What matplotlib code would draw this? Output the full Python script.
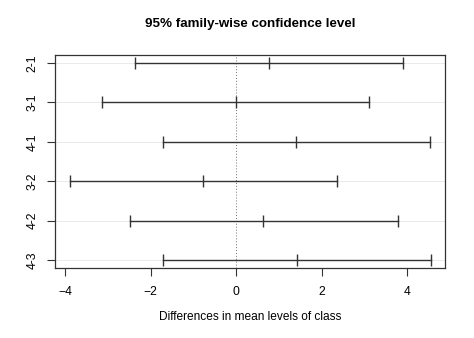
import matplotlib.pyplot as plt

plt.rcParams['font.family'] = ['Liberation Sans', 'DejaVu Sans']

# Tukey HSD comparisons, top to bottom
comparisons = ["2-1", "3-1", "4-1", "3-2", "4-2", "4-3"]
diff = [0.77, 0.00, 1.40, -0.77, 0.64, 1.42]
lower = [-2.36, -3.13, -1.72, -3.90, -2.49, -1.72]
upper = [3.90, 3.12, 4.53, 2.37, 3.78, 4.55]

fig = plt.figure(figsize=(4.74, 3.38), dpi=100)
ax = fig.add_axes([0.116, 0.207, 0.823, 0.630])

n = len(comparisons)
ypos = [n - i for i in range(n)]

# light grey guide lines and the zero reference
for y in ypos:
    ax.axhline(y, color="#e6e6e6", lw=0.6, zorder=1)
ax.axvline(0, color="#707070", lw=0.7, ls=(0, (1, 2)), zorder=1)

for y, d, lo, hi in zip(ypos, diff, lower, upper):
    ax.plot([lo, hi], [y, y], color="#333333", lw=1.0, zorder=2)
    ax.plot([lo, d, hi], [y, y, y], ls="none", marker="|", ms=8, mew=1.0,
            color="#333333", zorder=3)

ax.set_xlim(-4.24, 4.89)
ax.set_ylim(0.8, 6.2)
ax.set_xticks([-4, -2, 0, 2, 4])
ax.set_yticks(ypos)
ax.set_yticklabels(comparisons, rotation=90, va="center")
ax.tick_params(direction="out", length=6, width=0.8, labelsize=8.7, color="#333333")
ax.tick_params(axis="x", pad=7)
ax.tick_params(axis="y", pad=6)
for s in ax.spines.values():
    s.set_color("#333333")
    s.set_linewidth(0.9)

ax.set_title("95% family-wise confidence level", fontsize=9.6, fontweight="bold", pad=20)
ax.set_xlabel("Differences in mean levels of class", fontsize=8.6, labelpad=9)

fig.savefig("out.png", dpi=100)
